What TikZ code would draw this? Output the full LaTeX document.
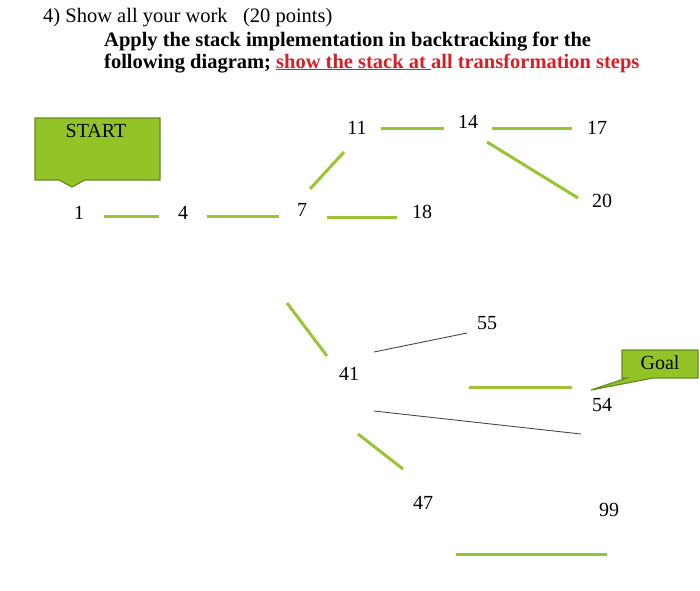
\documentclass[tikz,border=0pt]{standalone}
\usepackage{fontspec}
\setmainfont{Liberation Serif}
\usepackage{tikz}
\definecolor{edgegreen}{RGB}{154,196,52}
\definecolor{boxgreen}{RGB}{146,196,40}
\definecolor{boxline}{RGB}{100,140,30}
\definecolor{thingray}{RGB}{70,70,70}
\definecolor{taskred}{RGB}{218,30,40}

\begin{document}
\begin{tikzpicture}[x=1pt,y=-1pt]
      \tikzstyle{every node}=[inner sep=0pt,font=\fontsize{20}{23}\selectfont]
      \tikzstyle{green edge}=[draw=edgegreen,line width=3pt]
      \tikzstyle{thin edge}=[draw=thingray,line width=0.9pt]
      \tikzstyle{callout}=[fill=boxgreen,draw=boxline,line width=1.2pt]
      \tikzstyle{task}=[anchor=base west,font=\fontsize{20.5}{24}\selectfont]

      \useasboundingbox (0,0) rectangle (700,590);

      \node[task] (line1) at (43,22) {4) Show all your work\ \ \ (20 points)};
      \node[task,font=\fontsize{20.5}{24}\selectfont\bfseries] (line2) at (104,46.5) {Apply the stack implementation in backtracking for the};
      \node[task,font=\fontsize{20.5}{24}\selectfont\bfseries] (line3) at (104,68) {following diagram; {\color{taskred}\underline{show the stack at\ }all transformation steps}};

      \draw[callout] (35,118) -- (160,118) -- (160,180) -- (85,180) -- (72,187) -- (59,180) -- (35,180) -- cycle;
      \node (start) at (96,131) {START};
      \draw[callout] (622,350) -- (698,350) -- (698,378) -- (653,378) -- (591,390) -- (627,378) -- (622,378) -- cycle;
      \node (goal) at (660,363) {Goal};

      \node (n1) at (79,213) {1};
      \node (n4) at (183,213) {4};
      \node (n7) at (302,210) {7};
      \node (n18) at (422,212) {18};
      \node (n11) at (357,128) {11};
      \node (n14) at (468,122) {14};
      \node (n17) at (597,128) {17};
      \node (n20) at (602,201) {20};
      \node (n41) at (349,374) {41};
      \node (n55) at (487,323) {55};
      \node (n54) at (602,405) {54};
      \node (n47) at (423,503) {47};
      \node (n99) at (609,510) {99};

      \coordinate (e1a) at (104,216);
      \coordinate (e1b) at (159,216);
      \coordinate (e2a) at (207,216.5);
      \coordinate (e2b) at (279,216.5);
      \coordinate (e3a) at (327,217);
      \coordinate (e3b) at (397,217);
      \coordinate (e4a) at (310,189);
      \coordinate (e4b) at (344,152);
      \coordinate (e5a) at (381,128);
      \coordinate (e5b) at (444,128);
      \coordinate (e6a) at (492,128);
      \coordinate (e6b) at (572,128);
      \coordinate (e7a) at (487,142);
      \coordinate (e7b) at (578,198);
      \coordinate (e8a) at (287,303);
      \coordinate (e8b) at (327,356);
      \coordinate (e9a) at (358,434);
      \coordinate (e9b) at (403,469);
      \coordinate (e10a) at (469,387);
      \coordinate (e10b) at (572,387);
      \coordinate (e11a) at (456,554);
      \coordinate (e11b) at (607,554);
      \coordinate (t1a) at (374,352);
      \coordinate (t1b) at (467,333);
      \coordinate (t2a) at (374,411);
      \coordinate (t2b) at (581,434);

      \draw[green edge] (e1a) -- (e1b);
      \draw[green edge] (e2a) -- (e2b);
      \draw[green edge] (e3a) -- (e3b);
      \draw[green edge] (e4a) -- (e4b);
      \draw[green edge] (e5a) -- (e5b);
      \draw[green edge] (e6a) -- (e6b);
      \draw[green edge] (e7a) -- (e7b);
      \draw[green edge] (e8a) -- (e8b);
      \draw[green edge] (e9a) -- (e9b);
      \draw[green edge] (e10a) -- (e10b);
      \draw[green edge] (e11a) -- (e11b);

      \draw[thin edge] (t1a) -- (t1b);
      \draw[thin edge] (t2a) -- (t2b);

    \end{tikzpicture}
\end{document}
